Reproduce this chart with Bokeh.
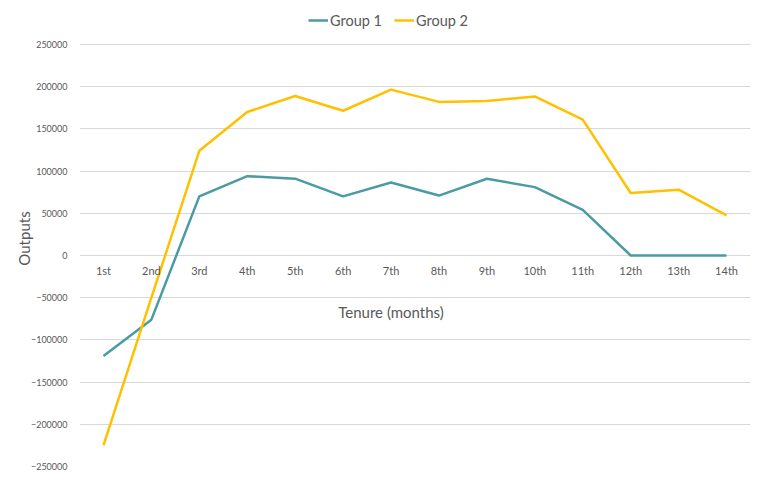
from bokeh.plotting import figure
from bokeh.models import Range1d, FactorRange, Legend, LegendItem, FixedTicker, ColumnDataSource, BasicTickFormatter
from bokeh.core.properties import value
from bokeh.embed import file_html
from bokeh.resources import INLINE

categories = ["1st", "2nd", "3rd", "4th", "5th", "6th", "7th", "8th", "9th", "10th", "11th", "12th", "13th", "14th"]
group1 = [-119000, -76000, 70000, 94000, 91000, 70000, 86500, 71000, 91000, 81000, 54000, 0, 0, 0]
group2 = [-225000, -50000, 124000, 170000, 189000, 171500, 196500, 182000, 183000, 188500, 161000, 74000, 78000, 47500]
y_ticks = [-250000, -200000, -150000, -100000, -50000, 0, 50000, 100000, 150000, 200000, 250000]
x_title = "Tenure (months)"
y_title = "Outputs"

TEAL = "#4A9BA5"
GOLD = "#FFC000"
GREY = "#595959"
FONT = "Lato"

W, H = 752, 487
# layout (canvas px): frame spans y 10..466, gridline range (ticks) spans 44..466
FRAME_TOP, GRID_TOP, GRID_BOTTOM = 10, 44, 466
span = y_ticks[-1] - y_ticks[0]
y_end = y_ticks[-1] + (GRID_TOP - FRAME_TOP) * span / (GRID_BOTTOM - GRID_TOP)

p = figure(width=W, height=H, x_range=FactorRange(*categories, range_padding=0),
           y_range=Range1d(y_ticks[0], y_end), output_backend="svg", toolbar_location=None,
           min_border_left=68, min_border_right=13, min_border_top=FRAME_TOP,
           min_border_bottom=H - GRID_BOTTOM)
p.styles = {"margin-left": "11px"}
p.outline_line_color = None
p.xgrid.grid_line_color = None
p.ygrid.grid_line_color = "#D9D9D9"
p.ygrid.grid_line_width = 1
p.xaxis.visible = False

ya = p.yaxis[0]
ya.ticker = FixedTicker(ticks=y_ticks)
ya.formatter = BasicTickFormatter(use_scientific=False)
ya.axis_line_color = None
ya.major_tick_line_color = None
ya.minor_tick_line_color = None
ya.major_label_text_font = FONT
ya.major_label_text_font_size = "9px"
ya.major_label_text_color = GREY
ya.major_label_standoff = 6
ya.axis_label = y_title
ya.axis_label_text_font = FONT
ya.axis_label_text_font_size = "15px"
ya.axis_label_text_font_style = "normal"
ya.axis_label_text_color = GREY
ya.axis_label_standoff = -5

r1 = p.line(categories, group1, line_color=TEAL, line_width=2.5)
r2 = p.line(categories, group2, line_color=GOLD, line_width=2.5)

# category labels along the zero line
src = ColumnDataSource(dict(x=categories, y=[0] * len(categories), t=categories))
p.text(x="x", y="y", text="t", source=src, y_offset=15, text_align="center",
       text_baseline="middle", text_font=value(FONT), text_font_size="11px", text_color=GREY)

# x axis title
p.text(x=[categories[6]], y=[-67500], text=[x_title], text_align="center", text_baseline="middle",
       text_font=value(FONT), text_font_size="15px", text_color=GREY)

legend = Legend(items=[LegendItem(label="Group 1", renderers=[r1]), LegendItem(label="Group 2", renderers=[r2])],
                orientation="horizontal", location=(229, 437), border_line_color=None,
                background_fill_alpha=0, label_text_font=FONT, label_text_font_size="14.5px",
                label_text_color=GREY, glyph_width=20, spacing=12, padding=0, margin=0,
                label_standoff=2, label_height=18, glyph_height=18)
p.add_layout(legend)

open("out.html", "w").write(file_html(p, INLINE))
